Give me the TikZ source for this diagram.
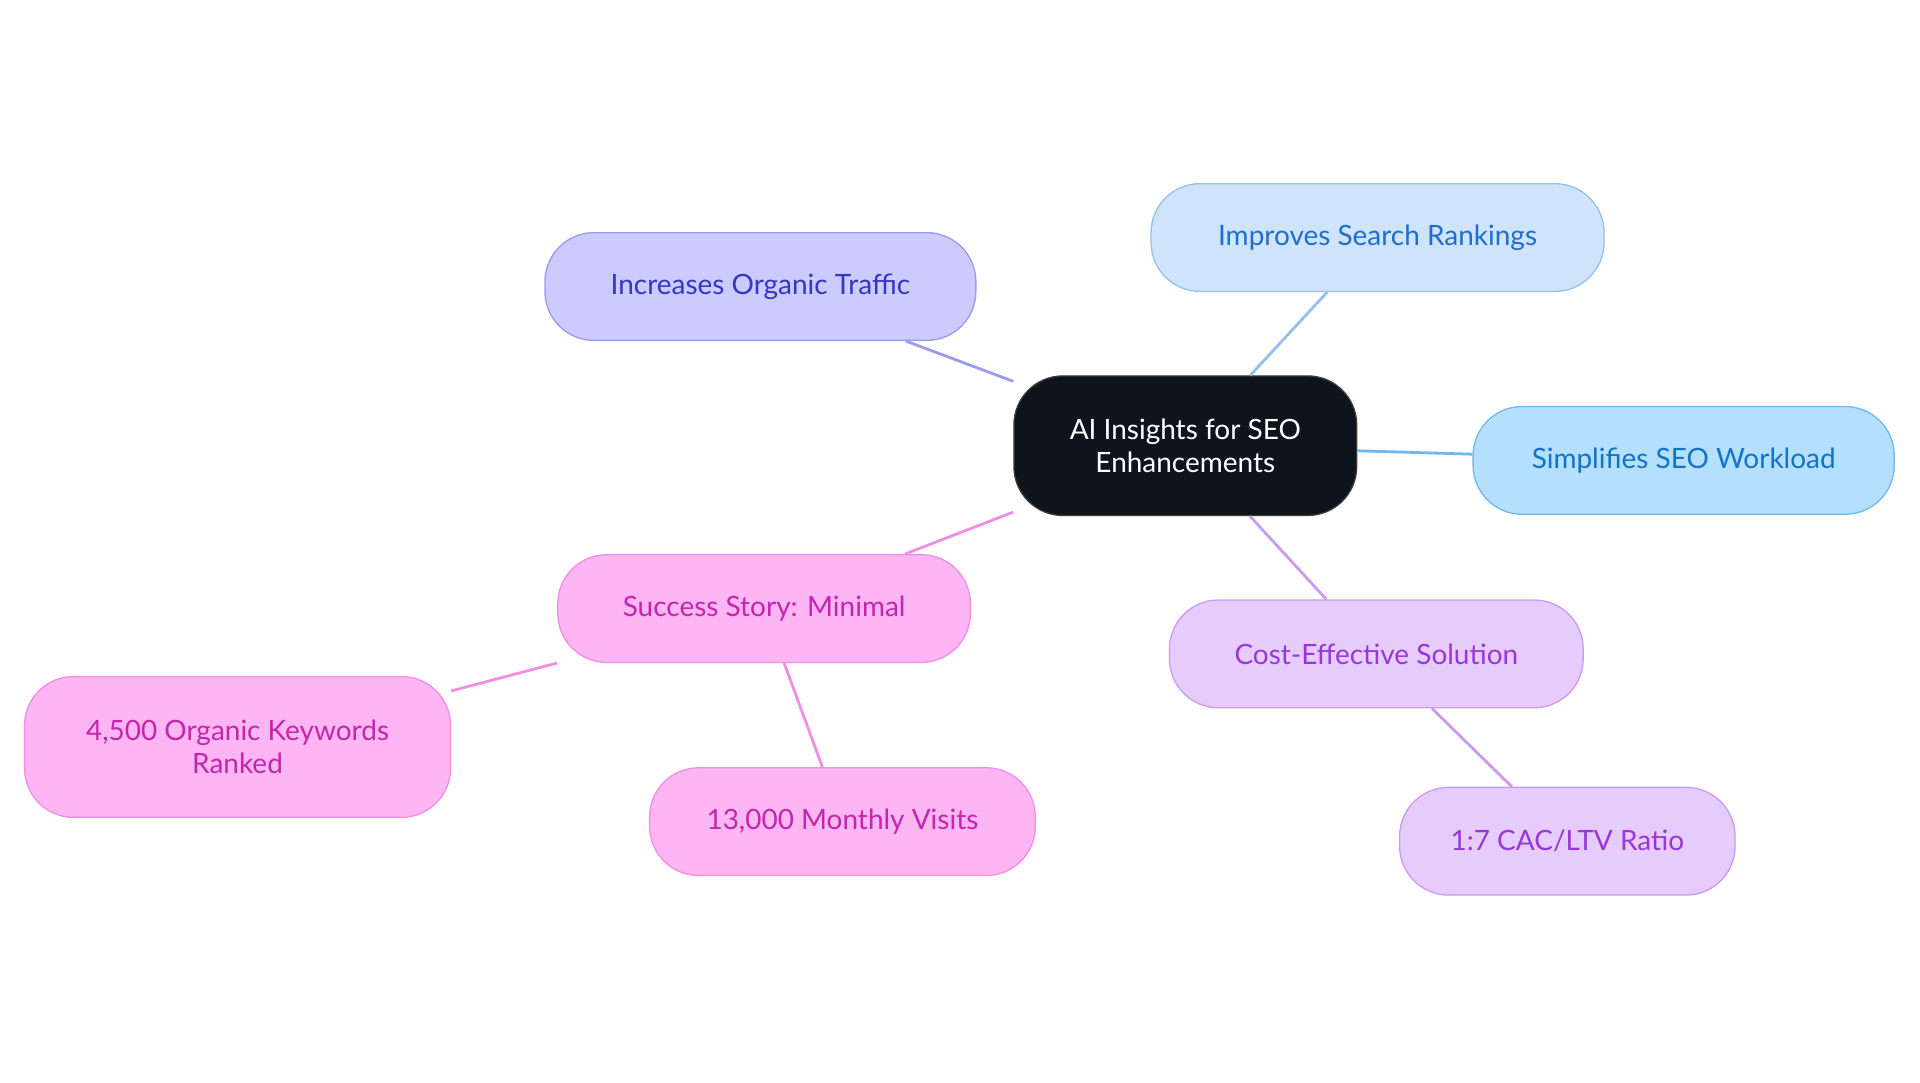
\documentclass[tikz,border=0pt]{standalone}
\usepackage{fontspec}
\setmainfont{Lato}
\begin{document}
\begin{tikzpicture}[x=0.02cm,y=-0.02cm,
 box/.style={rounded corners=0.8cm,minimum height=1.76cm,inner sep=0pt,line width=0.6pt,align=center,font=\fontsize{13}{15}\selectfont},
 blu/.style={box,fill=#1},
 edge/.style={line width=1.3pt}]
\useasboundingbox (0,0) rectangle (1568,884);
\definecolor{pB}{HTML}{CBCBFD}\definecolor{pBd}{HTML}{9A9AF0}\definecolor{pBt}{HTML}{3535C8}
\definecolor{lB}{HTML}{CFE3FB}\definecolor{lBd}{HTML}{93C0F0}\definecolor{lBt}{HTML}{1D6FCF}
\definecolor{sB}{HTML}{B5E0FD}\definecolor{sBd}{HTML}{6DB8EE}\definecolor{sBt}{HTML}{1173C9}
\definecolor{vB}{HTML}{E6CCFC}\definecolor{vBd}{HTML}{C99AF2}\definecolor{vBt}{HTML}{9A36D8}
\definecolor{mB}{HTML}{FDB5F3}\definecolor{mBd}{HTML}{F28DE4}\definecolor{mBt}{HTML}{C425AE}
\node[box,fill=black!90!blue!60!black,fill={rgb,255:red,13;green,20;blue,28},draw={rgb,255:red,60;green,60;blue,60},text=white,minimum width=5.6cm,minimum height=2.28cm] (c) at (968,364) {AI Insights for SEO\\Enhancements};
\node[box,fill=pB,draw=pBd,text=pBt,minimum width=7.04cm] (inc) at (621,234) {Increases Organic Traffic};
\node[box,fill=lB,draw=lBd,text=lBt,minimum width=7.4cm] (imp) at (1125,194) {Improves Search Rankings};
\node[box,fill=sB,draw=sBd,text=sBt,minimum width=6.88cm] (sim) at (1375,376) {Simplifies SEO Workload};
\node[box,fill=vB,draw=vBd,text=vBt,minimum width=6.76cm] (cost) at (1124,534) {Cost-Effective Solution};
\node[box,fill=vB,draw=vBd,text=vBt,minimum width=5.48cm] (cac) at (1280,687) {1:7 CAC/LTV Ratio};
\node[box,fill=mB,draw=mBd,text=mBt,minimum width=6.74cm] (suc) at (624,497) {Success Story: Minimal};
\node[box,fill=mB,draw=mBd,text=mBt,minimum width=6.96cm,minimum height=2.3cm] (k) at (194,610) {4,500 Organic Keywords\\Ranked};
\node[box,fill=mB,draw=mBd,text=mBt,minimum width=6.3cm] (v) at (688,671) {13,000 Monthly Visits};
\begin{scope}[on background layer/.style={}]
\end{scope}
\draw[edge,pBd] (c) -- (inc);
\draw[edge,lBd] (c) -- (imp);
\draw[edge,sBd] (c) -- (sim);
\draw[edge,vBd] (c) -- (cost);
\draw[edge,vBd] (cost) -- (cac);
\draw[edge,mBd] (c) -- (suc);
\draw[edge,mBd] (suc) -- (k);
\draw[edge,mBd] (suc) -- (v);
\end{tikzpicture}
\end{document}
